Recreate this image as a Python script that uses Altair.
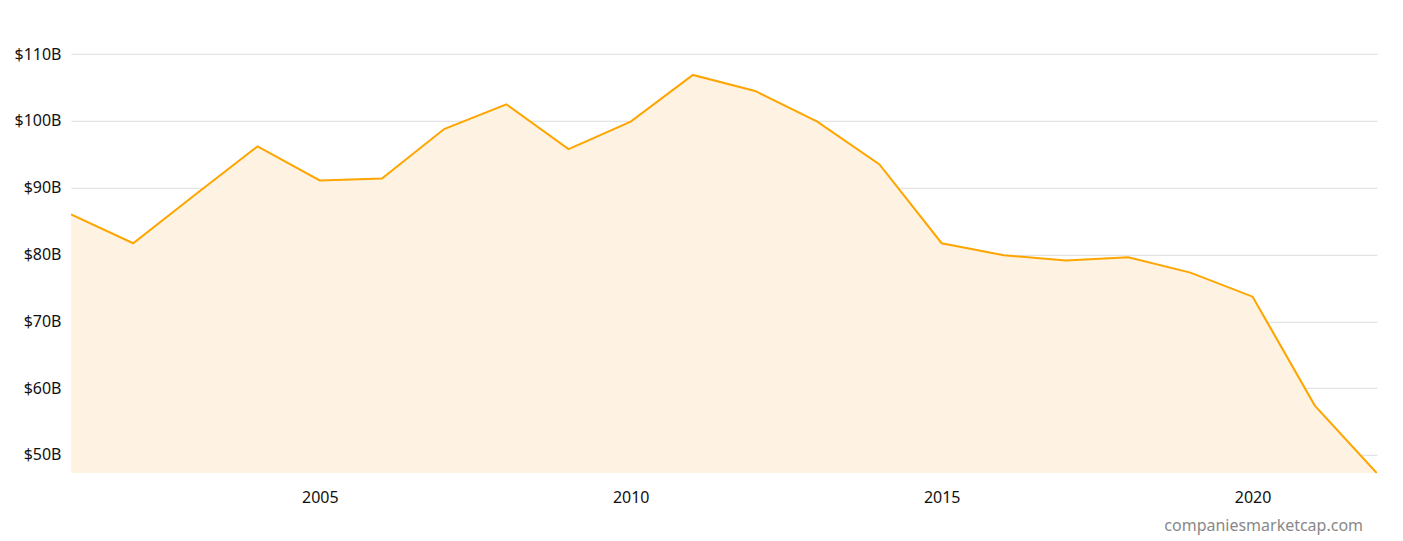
import altair as alt
import pandas as pd

years = list(range(2001, 2023))
revenue_b = [86.0, 81.7, 89.0, 96.2, 91.1, 91.4, 98.8, 102.5, 95.8, 99.9, 106.9, 104.5,
             99.9, 93.5, 81.7, 79.9, 79.1, 79.6, 77.3, 73.7, 57.4, 47.26]
x_ticks = [2005, 2010, 2015, 2020]
y_ticks = [50, 60, 70, 80, 90, 100, 110]
watermark = "companiesmarketcap.com"

df = pd.DataFrame({"year": years, "value": revenue_b})

FONT = "Noto Sans"
ymin, ymax = 47.26, 115.0

x = alt.X("year:Q", scale=alt.Scale(domain=[2001, 2022], nice=False, zero=False),
          axis=alt.Axis(values=x_ticks, format="d", title=None, grid=False, ticks=False,
                        domain=False, labelPadding=16, labelFontSize=16, labelFont=FONT,
                        labelColor="#111111"))
y = alt.Y("value:Q", scale=alt.Scale(domain=[ymin, ymax], nice=False, zero=False),
          axis=alt.Axis(values=y_ticks, labelExpr="'$' + datum.value + 'B'", title=None,
                        grid=True, gridColor="#dddddd", gridWidth=1, ticks=False, domain=False,
                        labelPadding=10, labelFontSize=16, labelFont=FONT,
                        labelColor="#111111"))

area = alt.Chart(df).mark_area(color="#fef3e3", opacity=1, clip=True).encode(
    x=x, y=y, y2=alt.datum(ymin))
line = alt.Chart(df).mark_line(color="#ffa500", strokeWidth=2, clip=True).encode(x="year:Q", y="value:Q")

wm = alt.Chart(pd.DataFrame({"t": [watermark]})).mark_text(
    font=FONT, fontSize=16, color="#888888", align="right", baseline="middle"
).encode(x=alt.value(1292), y=alt.value(505), text="t:N")

chart = alt.layer(area, line, wm).properties(
    width=1306, height=452.5,
    padding={"left": 63, "top": 12.8, "right": 10, "bottom": 66},
    autosize=alt.AutoSizeParams(type="none"),
).configure_view(stroke=None)

chart.save("out.html", embed_options={"renderer": "svg", "actions": False})
